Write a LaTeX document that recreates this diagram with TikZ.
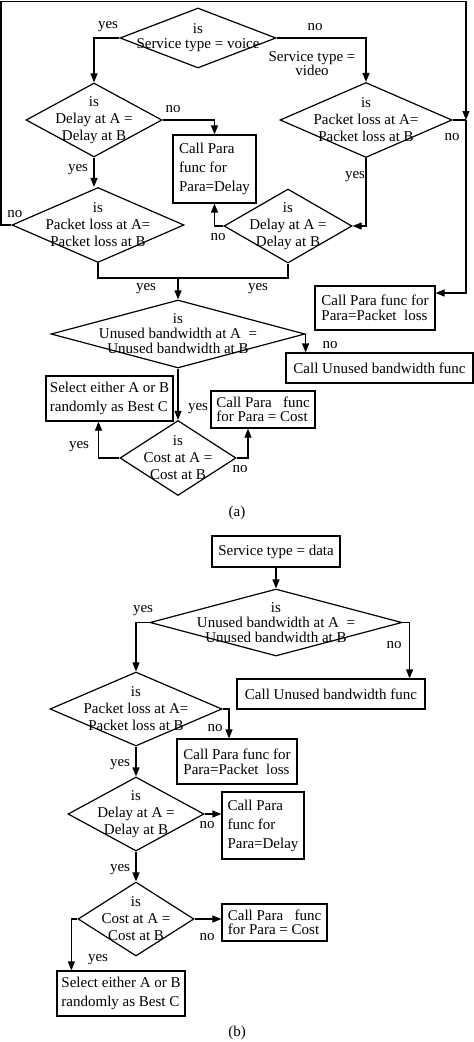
\documentclass[tikz,border=0pt]{standalone}
\usepackage{fontspec}
\setmainfont{Liberation Serif}
\usepackage{tikz}
\usetikzlibrary{shapes.geometric}
\usetikzlibrary{arrows.meta}

\tikzset{
  cond/.style={diamond, draw, inner sep=0pt},
  proc/.style={rectangle, draw, align=left, inner sep=0pt},
  ctext/.style={align=center, inner sep=0pt},
}

\begin{document}
\begin{tikzpicture}[x=1pt, y=-1pt, line width=1.2pt, >={Triangle[length=9pt, width=7pt]},
  font=\fontsize{15}{17}\selectfont]
\useasboundingbox (0, 0) rectangle (474, 1042);
% (a)
\node[cond, minimum width=156, minimum height=60, label={[ctext]center:{is\\[-2pt]Service type = voice}}] (d1) at (198, 38) {};
\node[cond, minimum width=136, minimum height=74, label={[ctext]center:{is\\Delay at A =\\Delay at B}}] (d2) at (94, 120) {};
\node[cond, minimum width=172, minimum height=75, label={[ctext]center:{is\\Packet loss at A=\\Packet loss at B}}] (d3) at (366, 120) {};
\node[cond, minimum width=172, minimum height=75, label={[ctext]center:{is\\Packet loss at A=\\Packet loss at B}}] (d4) at (98, 225) {};
\node[cond, minimum width=128, minimum height=74, label={[ctext]center:{is\\Delay at A =\\Delay at B}}] (d5) at (288, 226) {};
\node[cond, minimum width=254, minimum height=68, label={[ctext]center:{is\\[-2pt]Unused bandwidth at A\ \ =\\[-2pt]Unused bandwidth at B}}] (d6) at (178, 334) {};
\node[cond, minimum width=116, minimum height=75, label={[ctext]center:{is\\Cost at A =\\Cost at B}}] (d7) at (178, 458) {};
\node[proc, minimum width=83, minimum height=68] (b1) at (214.5, 169) {Call Para\\[2pt]func for\\[2pt]Para=Delay};
\node[proc, minimum width=120, minimum height=44] (b2) at (375, 308) {Call Para func for\\[-2pt]Para=Packet\ \ loss};
\node[proc, minimum width=187, minimum height=30] (b3) at (379.5, 368) {Call Unused bandwidth func};
\node[proc, minimum width=127, minimum height=45] (b4) at (109.5, 398.5) {Select either A or B\\[2pt]randomly as Best C};
\node[proc, minimum width=104, minimum height=37] (b5) at (263, 409.5) {Call Para\ \ \ func\\[-3pt]for Para = Cost};

\coordinate (rt) at (466, 0);
\coordinate (jn) at (d3.east -| rt);
\coordinate (mg) at (178, 278);
\draw[->] (d1.west) -| (d2.north);
\draw[->] (d1.east) -| (d3.north);
\draw[->] (d2.east) -| (b1.north);
\draw[->] (d2.south) -- (d2.south |- d4.north);
\draw[->] (d3.south) |- (d5.east);
\draw[->] (d5.west) -| (b1.south);
\draw[->] (d4.west) -| (1, 1.2) -| (jn);
\draw (d3.east) -- (jn);
\draw[->] (jn) |- ([yshift=15pt]b2.east);
\draw (d4.south) |- (mg) -| (d5.south);
\draw[->] (mg) -- (d6.north);
\draw[->] (d6.east) -- (d6.east |- b3.north);
\draw[->] (d6.south) -- (d7.north);
\draw[->] (d7.west) -| ([xshift=-11pt]b4.south);
\draw[->] (d7.east) -| ([xshift=-15pt]b5.south);

\node (ya1) at (108, 27) {yes};
\node (na1) at (315, 27) {no};
\node[align=center] (sv) at (312, 64) {Service type =\\[-3pt]video};
\node (na2) at (173, 109) {no};
\node (ya2) at (78, 170) {yes};
\node (na3) at (15, 214) {no};
\node (na4) at (218, 237) {no};
\node (ya3) at (355, 177) {yes};
\node (na5) at (452, 137) {no};
\node (ya4) at (146, 289) {yes};
\node (ya5) at (258, 289) {yes};
\node (na6) at (330, 345) {no};
\node (ya6) at (198, 409) {yes};
\node (ya7) at (79, 447) {yes};
\node (na7) at (240, 469) {no};
\node (capa) at (237, 513) {(a)};

% (b)
\node[proc, minimum width=128, minimum height=31, align=center] (c0) at (276, 551.5) {Service type = data};
\node[cond, minimum width=252, minimum height=67, label={[ctext]center:{is\\[-2pt]Unused bandwidth at A\ \ =\\[-2pt]Unused bandwidth at B}}] (e1) at (276, 622.5) {};
\node[cond, minimum width=172, minimum height=74, label={[ctext]center:{is\\Packet loss at A=\\Packet loss at B}}] (e2) at (136, 709) {};
\node[cond, minimum width=136, minimum height=74, label={[ctext]center:{is\\Delay at A =\\Delay at B}}] (e3) at (136, 814) {};
\node[cond, minimum width=116, minimum height=74, label={[ctext]center:{is\\Cost at A =\\Cost at B}}] (e4) at (136, 919) {};
\node[proc, minimum width=188, minimum height=30] (c1) at (331, 694) {Call Unused bandwidth func};
\node[proc, minimum width=120, minimum height=45] (c2) at (237, 761.5) {Call Para func for\\[-2pt]Para=Packet\ \ loss};
\node[proc, minimum width=82, minimum height=67] (c3) at (263, 825.5) {Call Para\\[2pt]func for\\[2pt]Para=Delay};
\node[proc, minimum width=105, minimum height=37] (c4) at (274.5, 922.5) {Call Para\ \ \ func\\[-3pt]for Para = Cost};
\node[proc, minimum width=128, minimum height=45] (c5) at (121, 993.5) {Select either A or B\\[2pt]randomly as Best C};

\draw[->] (c0.south) -- (e1.north);
\draw[->] (e1.west) -| (e2.north);
\draw[->] (e1.east) -| ([xshift=-16pt]c1.north east);
\draw[->] (e2.east) -| ([xshift=-8pt]c2.north);
\draw[->] (e2.south) -- (e3.north);
\draw[->] (e3.east) -- (e3.east -| c3.west);
\draw[->] (e3.south) -- (e4.north);
\draw[->] (e4.east) -- (e4.east -| c4.west);
\draw[->] (e4.west) -| ([xshift=15pt]c5.north west);

\node (yb1) at (143, 611) {yes};
\node (nb1) at (394, 645) {no};
\node (nb2) at (215, 728) {no};
\node (yb2) at (120, 765) {yes};
\node (nb3) at (207, 825) {no};
\node (yb3) at (120, 870) {yes};
\node (nb4) at (207, 937) {no};
\node (yb4) at (98, 960) {yes};
\node (capb) at (237, 1033) {(b)};
\end{tikzpicture}
\end{document}
